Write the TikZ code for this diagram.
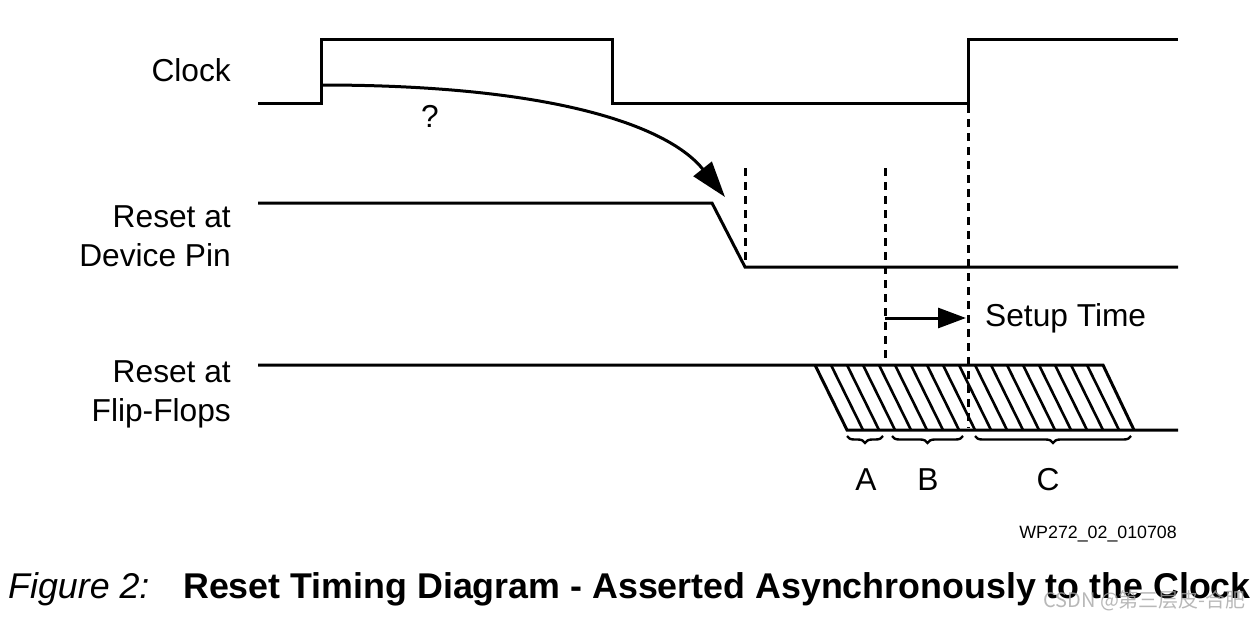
\documentclass[tikz,border=0pt]{standalone}
\usepackage{fontspec}
\setmainfont{Liberation Sans}
\newfontfamily\cjkfont{Noto Sans CJK SC}
\usetikzlibrary{arrows.meta,decorations.pathreplacing}
\begin{document}
\begin{tikzpicture}[x=1pt,y=-1pt,
  sig/.style={line width=3pt, line join=miter, line cap=butt},
  dsh/.style={line width=3pt, dash pattern=on 8pt off 6pt},
  lbl/.style={font=\fontsize{31.7}{39}\selectfont, inner sep=0pt, align=right},
  bigarrow/.style={line width=3pt, -{Triangle[length=36pt,width=23pt]}},
  smallarrow/.style={line width=3pt, -{Triangle[length=28pt,width=20pt]}},
  hatch/.style={line width=2.6pt},
  brc/.style={line width=2.4pt, decorate, decoration={brace, mirror, amplitude=7pt}},
  captxt/.style={font=\fontsize{35.8}{40}\selectfont, inner sep=0pt},
  wm/.style={font=\cjkfont\fontsize{20}{24}\selectfont, text=gray!70, inner sep=0pt, opacity=0.8}]
\useasboundingbox (0,0) rectangle (1256,618);

% labels
\node[lbl, anchor=east] (lclk) at (231,70) {Clock};
\node[lbl, anchor=east] (lrst) at (231,236.5) {Reset at\\Device Pin};
\node[lbl, anchor=east] (lff) at (231,394.5) {Reset at\\Flip-Flops};

% clock
\draw[sig] (258,103) -- (321,103) -- (321,40) -- (612,40) -- (612,103) -- (968,103) -- (968,40) -- (1178,40);
% reset at device pin
\draw[sig] (258,203) -- (712,203) -- (745,267) -- (1178,267);
% reset at flip-flops
\draw[sig] (258,365) -- (1103,365) -- (1134,430);
\draw[sig] (815,365) -- (847,430) -- (1178,430);
\foreach \k in {1,...,17} {
  \draw[hatch] ({815+16*\k},365) -- ({847+16*\k},430);
}

% dashed markers
\coordinate (d1t) at (745,168); \coordinate (d1b) at (745,265);
\coordinate (d2t) at (885,168); \coordinate (d2b) at (885,363);
\coordinate (d3t) at (968,105); \coordinate (d3b) at (968,428);
\draw[dsh] (d1t) -- (d1b);
\draw[dsh] (d2t) -- (d2b);
\draw[dsh] (d3t) -- (d3b);

% curved arrow
\coordinate (cs) at (321,85);
\coordinate (ce) at (725,197);
\draw[bigarrow] (cs) .. controls (560,85) and (670,128) .. (ce);
\node[lbl] (q) at (430,116) {?};

% setup time
\coordinate (ss) at (885,318);
\coordinate (se) at (966,318);
\draw[smallarrow] (ss) -- (se);
\node[lbl, anchor=west] (setup) at (985,318) {Setup Time};

% braces
\draw[brc] (847,436) -- (883,436);
\draw[brc] (892,436) -- (963,436);
\draw[brc] (975,436) -- (1131,436);
\node[lbl] (la) at (866,480) {A};
\node[lbl] (lb) at (928,480) {B};
\node[lbl] (lc) at (1048,480) {C};

% id
\node[font=\fontsize{17.8}{20}\selectfont, inner sep=0pt, anchor=east] (id) at (1177,534) {WP272\_02\_010708};

% caption
\node[captxt, anchor=west] (fig) at (8,589) {\itshape Figure 2:};
\node[captxt, anchor=west] (title) at (183,589) {\bfseries Reset Timing Diagram - Asserted Asynchronously to the Clock};
\node[wm, anchor=west] (wmk) at (1043,601) {CSDN @第三层皮-合肥};
\end{tikzpicture}
\end{document}
